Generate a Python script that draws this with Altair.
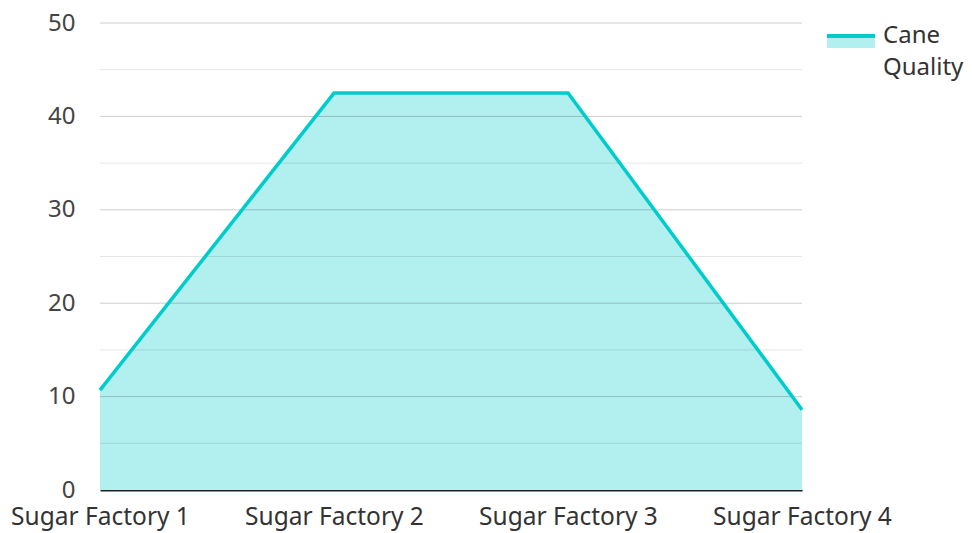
import altair as alt
import pandas as pd

factories = ["Sugar Factory 1", "Sugar Factory 2", "Sugar Factory 3", "Sugar Factory 4"]
cane_quality = [10.7, 42.5, 42.5, 8.6]
major_ticks = [0, 10, 20, 30, 40, 50]
minor_ticks = [5, 15, 25, 35, 45]
series_name = "Cane Quality"

LINE = "#00cccc"
FILL = "#b2efef"
FONT = "Noto Sans"

df = pd.DataFrame({"factory": factories, "value": cane_quality})
major_df = pd.DataFrame({"value": [t for t in major_ticks if t > 0]})
minor_df = pd.DataFrame({"value": minor_ticks})

x = alt.X("factory:N", sort=factories, title=None,
          scale=alt.Scale(type="point", padding=0),
          axis=alt.Axis(labelAngle=0, ticks=False, domain=True, domainColor="#222222",
                        domainWidth=2, labelFontSize=24.5, labelColor="#333333",
                        labelFont=FONT, labelPadding=15, grid=False))
yscale = alt.Scale(domain=[0, 50], nice=False, zero=True)
yaxis = alt.Axis(values=major_ticks, ticks=False, domain=False, grid=False,
                 labelFontSize=24, labelColor="#444444", labelFont=FONT,
                 labelPadding=25)
y = alt.Y("value:Q", title=None, scale=yscale, axis=yaxis)

area = alt.Chart(df).mark_area(color=FILL, opacity=1).encode(x=x, y=y)

minor = alt.Chart(minor_df).mark_rule(color="black", strokeOpacity=0.1, strokeWidth=1).encode(y=y)
major = alt.Chart(major_df).mark_rule(color="black", strokeOpacity=0.2, strokeWidth=1).encode(y=y)

line = alt.Chart(df).mark_line(color=LINE, strokeWidth=3.5).encode(x=x, y=y)

leg_df = pd.DataFrame({"label": [series_name]})
leg_fill = alt.Chart(leg_df).mark_rect(color=FILL).encode(
    x=alt.value(727), x2=alt.value(775), y=alt.value(12), y2=alt.value(25))
leg_line = alt.Chart(leg_df).mark_rule(color=LINE, strokeWidth=4).encode(
    x=alt.value(727), x2=alt.value(775), y=alt.value(13))
leg_text = alt.Chart(leg_df).transform_calculate(
    lines="split(datum.label, ' ')"
).mark_text(
    align="left", baseline="middle", fontSize=24, font=FONT, color="#333333", lineHeight=32
).encode(x=alt.value(783), y=alt.value(13), text=alt.Text("lines:N"))

chart = alt.layer(area, minor, major, line, leg_fill, leg_line, leg_text).properties(
    width=702, height=467,
    autosize=alt.AutoSizeParams(type="none"),
    padding={"left": 92, "top": 15, "right": 162, "bottom": 43},
).configure_view(stroke=None)

chart.save("out.html", embed_options={"renderer": "svg", "actions": False})
